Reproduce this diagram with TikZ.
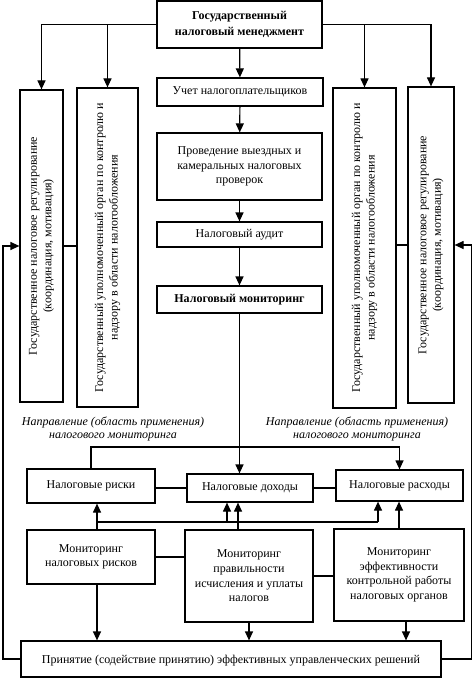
\documentclass[tikz,border=0pt]{standalone}
\usepackage{fontspec}
\setmainfont{Liberation Serif}
\usetikzlibrary{arrows.meta}
\begin{document}
\begin{tikzpicture}[x=1pt,y=-1pt,
  box/.style={draw, line width=1.2pt, align=center, inner sep=1pt, font=\fontsize{12}{14.6}\selectfont},
  bbox/.style={box, font=\fontsize{12}{16}\selectfont\bfseries},
  arr/.style={line width=1.2pt, -{Triangle[length=9pt,width=8pt]}},
  ln/.style={line width=1.2pt},
  lbl/.style={align=center, inner sep=0pt, font=\fontsize{12}{13}\selectfont\itshape}]
\useasboundingbox (0,0) rectangle (474,679);
\fill[white] (0,0) rectangle (474,679);
% central column
\node[bbox, minimum width=165pt, minimum height=47pt] (top) at (239.5,24.5) {Государственный\\налоговый менеджмент};
\node[box, minimum width=166pt, minimum height=28pt] (uchet) at (240,92) {Учет налогоплательщиков};
\node[box, minimum width=165pt, minimum height=67pt] (proved) at (239.5,166.5) {Проведение выездных и\\камеральных налоговых\\проверок};
\node[box, minimum width=165pt, minimum height=25pt] (audit) at (239.5,234.5) {Налоговый аудит};
\node[bbox, minimum width=165pt, minimum height=27pt] (monit) at (239.5,299.5) {Налоговый мониторинг};
% side boxes (rotated: east = up, north = left)
\node[box, rotate=90, minimum width=312pt, minimum height=43pt] (LO) at (41.5,246) {Государственное налоговое регулирование\\(координация, мотивация)};
\node[box, rotate=90, minimum width=319pt, minimum height=61pt] (LI) at (107.5,247.5) {Государственный уполномоченный орган по контролю и\\надзору в области налогообложения};
\node[box, rotate=90, minimum width=320pt, minimum height=63pt] (RI) at (364.5,248) {Государственный уполномоченный орган по контролю и\\надзору в области налогообложения};
\node[box, rotate=90, minimum width=316pt, minimum height=46pt] (RO) at (431,245) {Государственное налоговое регулирование\\(координация, мотивация)};
% labels
\node[lbl] (labL) at (113,429) {Направление (область применения)\\налогового мониторинга};
\node[lbl] (labR) at (357,429) {Направление (область применения)\\налогового мониторинга};
% middle row
\node[box, minimum width=128pt, minimum height=34pt] (risk) at (91,486) {Налоговые риски};
\node[box, minimum width=126pt, minimum height=28pt] (doh) at (250,488) {Налоговые доходы};
\node[box, minimum width=127pt, minimum height=31pt] (rash) at (399.5,485.5) {Налоговые расходы};
% lower row
\node[box, minimum width=128pt, minimum height=54pt] (mr) at (91,557) {Мониторинг\\налоговых рисков};
\node[box, minimum width=128pt, minimum height=92pt] (mp) at (249,576) {Мониторинг\\правильности\\исчисления и уплаты\\налогов};
\node[box, minimum width=130pt, minimum height=92pt] (me) at (399,575) {Мониторинг\\эффективности\\контрольной работы\\налоговых органов};
\node[box, minimum width=420pt, minimum height=36pt, text depth=0pt] (bottom) at (231,659) {Принятие (содействие принятию) эффективных управленческих решений};
% arrows from top
\draw[arr] (top.west) -| (LO.east);
\draw[arr] (top.west) -| (LI.east);
\draw[arr] (top.east) -| (RI.east);
\draw[arr] (top.east) -| (RO.east);
\draw[arr] (top) -- (uchet);
\draw[arr] (uchet) -- (proved);
\draw[arr] (proved) -- (audit);
\draw[arr] (audit) -- (monit);
\draw[arr] (monit.south) -- (monit.south |- doh.north);
% side links
\draw[ln] (LO.south) -- (LO.south -| LI.north);
\draw[ln] (RO.north) -- (RO.north -| RI.south);
% feedback
\draw[arr] (bottom.west) -- (3,659) -- (3,246) -- (LO.north);
\draw[arr] (bottom.east) -- (471.5,659) -- (471.5,245) -- (RO.south);
% middle row links
\draw[ln] (doh.west) -- (doh.west -| risk.east);
\draw[ln] (doh.east) -- (doh.east -| rash.west);
\draw[arr] (risk.north) -- (91,447) -| (rash.north);
% lower up-arrows
\draw[arr] ([xshift=6pt]mr.north) -- ([xshift=6pt]risk.south);
\draw[ln] ([xshift=6pt]mr.north |- 0,522) -- (378,522);
\draw[arr] (227,522) -- (227,522 |- doh.south);
\draw[arr] (378,522) -- (378,522 |- rash.south);
\draw[arr] ([xshift=-11pt]mp.north) -- ([xshift=-11pt]mp.north |- doh.south);
\draw[arr] (me.north) -- (me.north |- rash.south);
% lower links
\draw[ln] (mr.east) -- (mr.east -| mp.west);
\draw[ln] (mp.east) -- (mp.east -| me.west);
% down arrows
\draw[arr] ([xshift=6pt]mr.south) -- ([xshift=6pt]mr.south |- bottom.north);
\draw[arr] (mp.south) -- (mp.south |- bottom.north);
\draw[arr] ([xshift=7pt]me.south) -- ([xshift=7pt]me.south |- bottom.north);
\end{tikzpicture}
\end{document}
